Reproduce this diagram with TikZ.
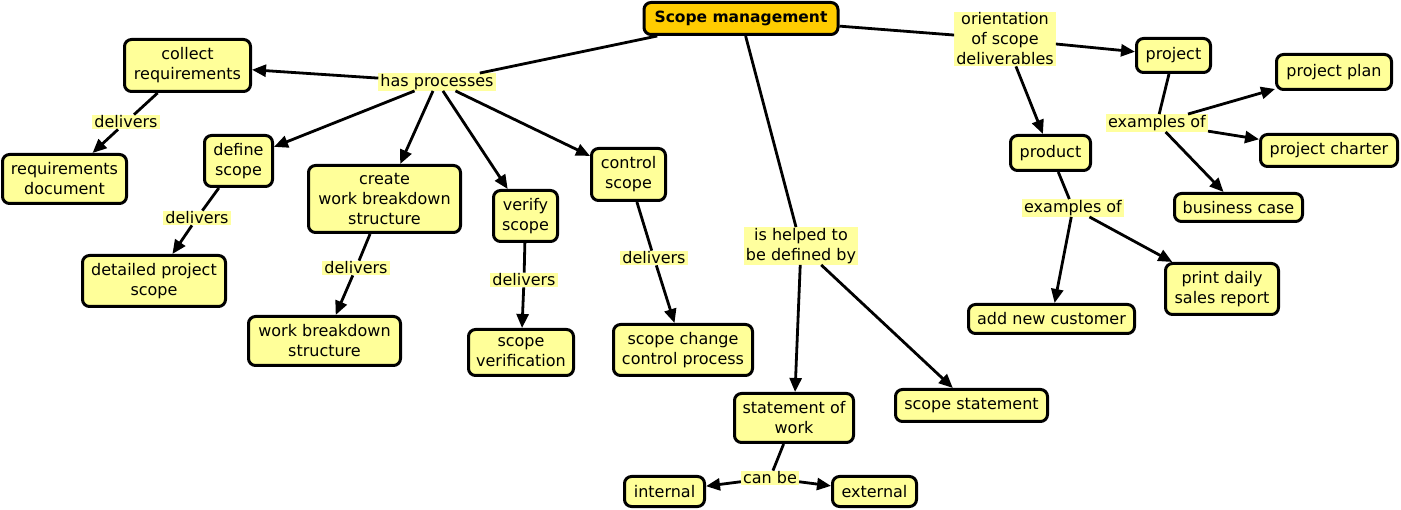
\documentclass[tikz,border=0pt]{standalone}
\usepackage{fontspec}
\setmainfont{DejaVu Sans}
\usetikzlibrary{arrows.meta}
\definecolor{conceptfill}{RGB}{255,255,153}
\definecolor{rootfill}{RGB}{255,204,0}
\definecolor{linkfill}{RGB}{255,255,158}
\begin{document}
\begin{tikzpicture}[x=1pt,y=-1pt,
  font=\fontsize{16}{20}\selectfont,
  concept/.style={draw=black, line width=3pt, rounded corners=7pt, fill=conceptfill,
    align=center, inner sep=0pt},
  root/.style={concept, fill=rootfill, font=\fontsize{15.5}{20}\selectfont\bfseries},
  linkname/.style={fill=linkfill, align=center, inner xsep=2pt, inner ysep=1pt},
  conn/.style={line width=2.8pt, draw=black},
  arr/.style={conn, -{Triangle[length=14pt,width=12pt]}}]
\useasboundingbox (0,0) rectangle (1401,510);

% concepts: minimum size = outer size minus the border width
\newcommand{\concept}[6][concept]{%
  \node[#1, minimum width=#5pt-3pt, minimum height=#6pt-3pt] (#2) at #3 {#4};}

\concept[root]{scope}{(741,18.5)}{Scope management}{197}{35}
\concept{collect}{(187.5,65.5)}{collect\\requirements}{129}{55}
\concept{reqdoc}{(64.5,179)}{requirements\\document}{127}{52}
\concept{define}{(238.5,161)}{define\\scope}{71}{54}
\concept{detailed}{(154,281)}{detailed project\\scope}{146}{54}
\concept{create}{(384.5,199)}{create\\work breakdown\\structure}{155}{70}
\concept{wbs}{(324.5,341)}{work breakdown\\structure}{155}{52}
\concept{verify}{(525.5,216)}{verify\\scope}{67}{54}
\concept{scopever}{(521,352.5)}{scope\\verification}{108}{49}
\concept{control}{(628.5,174.5)}{control\\scope}{77}{55}
\concept{scc}{(683,350)}{scope change\\control process}{142}{54}
\concept{sow}{(794,418)}{statement of\\work}{122}{52}
\concept{scopestmt}{(971.5,405.5)}{scope statement}{155}{35}
\concept{internal}{(664.5,491.5)}{internal}{83}{33}
\concept{external}{(874.5,491.5)}{external}{87}{33}
\concept{project}{(1173.5,55.5)}{project}{77}{37}
\concept{pplan}{(1334,72)}{project plan}{118}{38}
\concept{pcharter}{(1329,150.5)}{project charter}{140}{35}
\concept{bcase}{(1238.5,207.5)}{business case}{131}{31}
\concept{product}{(1050.5,153)}{product}{83}{38}
\concept{print}{(1222,289)}{print daily\\sales report}{116}{54}
\concept{addnew}{(1051.5,319)}{add new customer}{169}{32}

% linking phrases
\node[linkname] (hasproc) at (437,82) {has processes};
\node[linkname] (del1) at (126,122) {delivers};
\node[linkname] (del2) at (197,218) {delivers};
\node[linkname] (del3) at (356,268) {delivers};
\node[linkname] (del4) at (524,280) {delivers};
\node[linkname] (del5) at (654,258) {delivers};
\node[linkname] (helped) at (801,246) {is helped to\\be defined by};
\node[linkname] (canbe) at (770,478) {can be};
\node[linkname] (orient) at (1005,39) {orientation\\of scope\\deliverables};
\node[linkname] (exproj) at (1157,123) {examples of};
\node[linkname] (exprod) at (1073,208) {examples of};

% connectors
\draw[conn] (scope) -- (hasproc);
\draw[arr] (hasproc) -- (collect);
\draw[arr] (hasproc) -- (define);
\draw[arr] (hasproc) -- (create);
\draw[arr] (hasproc) -- (verify);
\draw[arr] (hasproc) -- (control);

\draw[conn] (collect) -- (del1);
\draw[arr] (del1) -- (reqdoc);
\draw[conn] (define) -- (del2);
\draw[arr] (del2) -- (detailed);
\draw[conn] (create) -- (del3);
\draw[arr] (del3) -- (wbs);
\draw[conn] (verify) -- (del4);
\draw[arr] (del4) -- (scopever);
\draw[conn] (control) -- (del5);
\draw[arr] (del5) -- (scc);

\draw[conn] (scope) -- (helped);
\draw[arr] (helped) -- (sow);
\draw[arr] (helped) -- (scopestmt);
\draw[conn] (sow) -- (canbe);
\draw[arr] (canbe) -- (internal);
\draw[arr] (canbe) -- (external);

\draw[conn] (scope) -- (orient);
\draw[arr] (orient) -- (project);
\draw[arr] (orient) -- (product);
\draw[conn] (project) -- (exproj);
\draw[arr] (exproj) -- (pplan);
\draw[arr] (exproj) -- (pcharter);
\draw[arr] (exproj) -- (bcase);
\draw[conn] (product) -- (exprod);
\draw[arr] (exprod) -- (addnew);
\draw[arr] (exprod) -- (print);
\end{tikzpicture}
\end{document}
